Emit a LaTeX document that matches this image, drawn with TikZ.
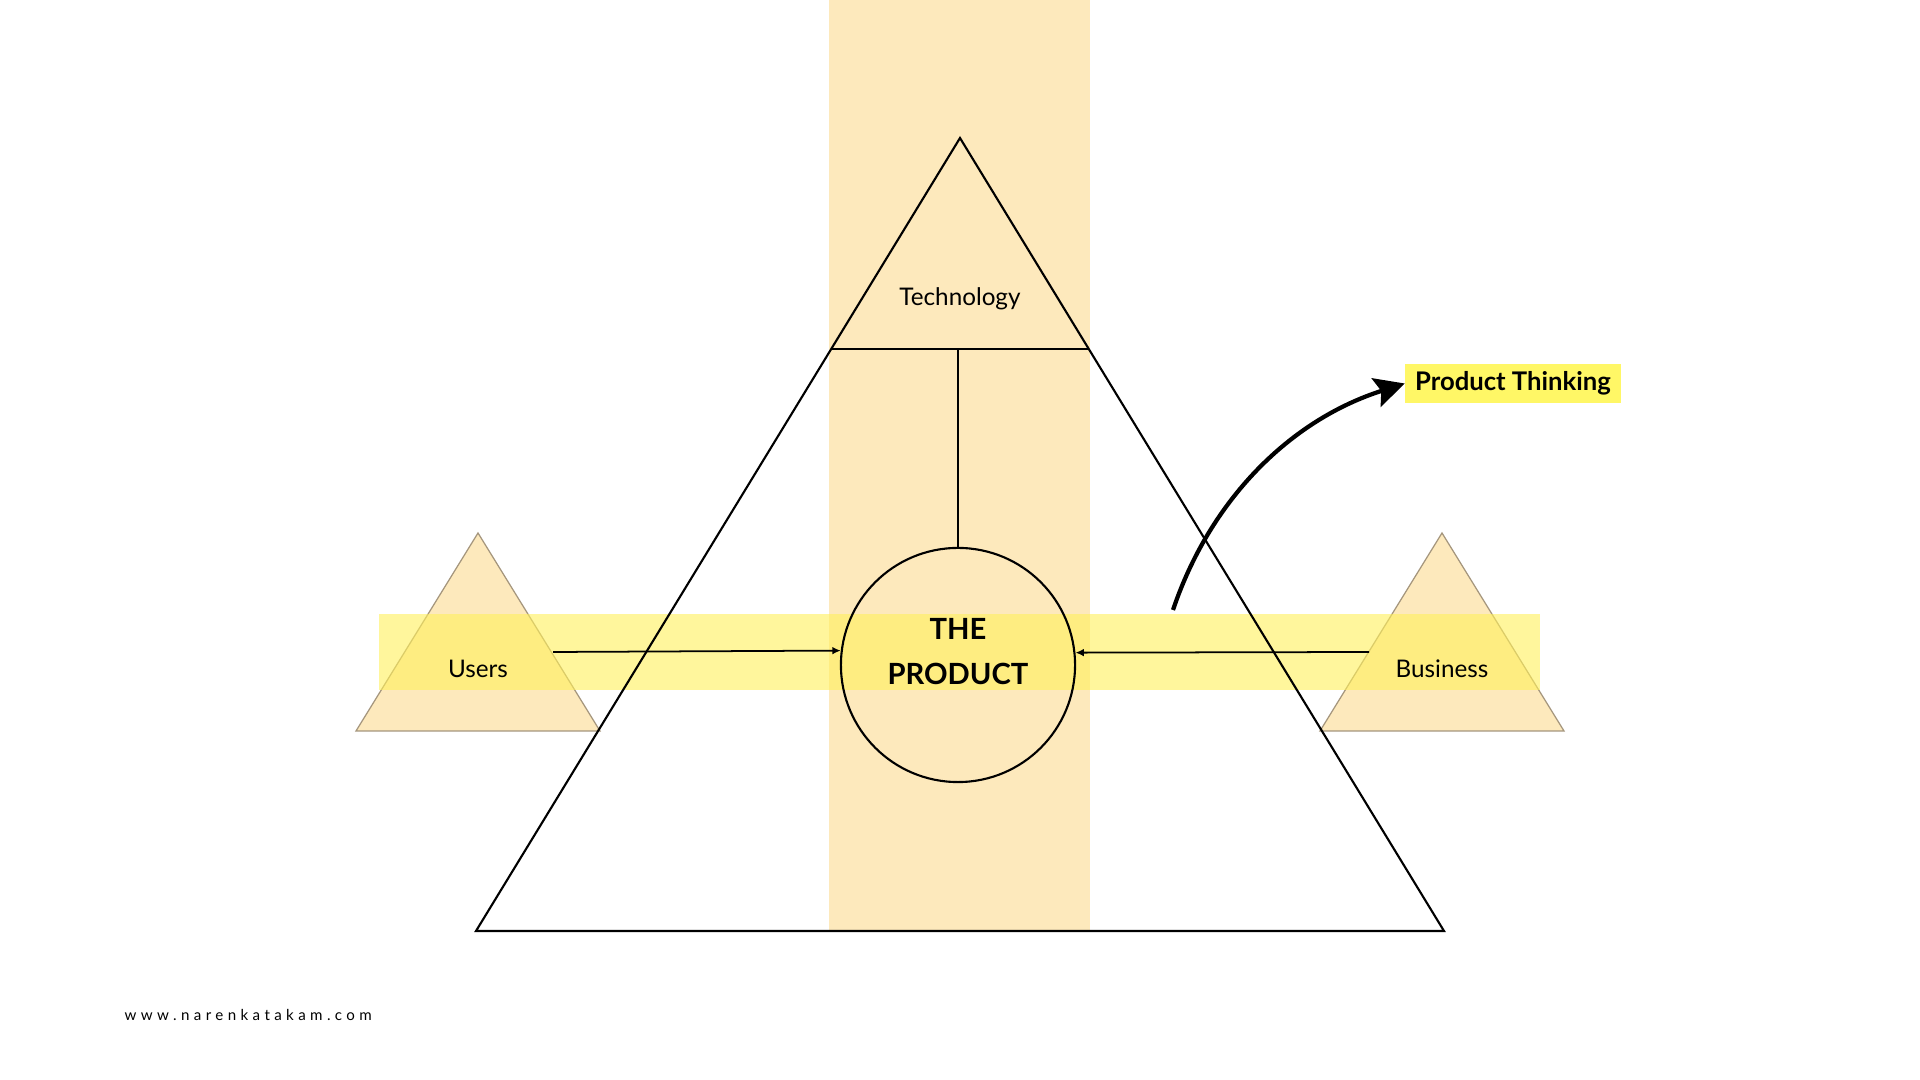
\documentclass[tikz,border=0pt]{standalone}
\usepackage{fontspec}
\setmainfont{Lato}
\usetikzlibrary{arrows.meta}
\begin{document}
\begin{tikzpicture}[x = 0.01cm, y = -0.01cm]
\definecolor{bandorange}{RGB}{253,233,188}
\definecolor{bandyellow}{RGB}{255,240,90}
\definecolor{labelyellow}{RGB}{255,247,102}
\definecolor{edgegray}{RGB}{165,150,125}
\pgfmathsetmacro\half{122};
\useasboundingbox [fill = white] (0,0) rectangle (1920,1080);
\fill [bandorange] (829,0) rectangle (1090,931);
\foreach \cx in {478,1442} \draw [fill = bandorange, draw = edgegray, line width = 0.35pt] (\cx,533) -- (\cx+\half,731) -- (\cx-\half,731) -- cycle;
\fill [bandyellow, fill opacity = 0.6] (379,614) rectangle (1540,690);
\draw [line width = 0.6pt] (960,138) -- (1444,931) -- (476,931) -- cycle;
\draw [line width = 0.6pt] (832,349) -- (1089,349);
\node [circle, draw, line width = 0.6pt, minimum size = 2.34cm, inner sep = 0pt] (product) at (958,665) {};
\node [font = \fontsize{8.3}{12.8}\selectfont\bfseries, align = center] (producttext) at (958,652) {THE\\PRODUCT};
\node [anchor = base, font = \fontsize{6.9}{8}\selectfont] (technology) at (960,306) {Technology};
\node [anchor = base, font = \fontsize{6.9}{8}\selectfont] (users) at (478,678) {Users};
\node [anchor = base, font = \fontsize{6.9}{8}\selectfont] (business) at (1442,678) {Business};
\node [fill = labelyellow, minimum width = 2.15cm, minimum height = 0.39cm, inner sep = 0pt, font = \fontsize{7.3}{8}\selectfont\bfseries] (thinking) at (1513,383.5) {Product Thinking};
\coordinate (techbase) at (958,349);
\coordinate (usersend) at (553,652);
\coordinate (businessend) at (1369,652);
\coordinate (curvestart) at (1173,610);
\draw [line width = 0.6pt] (techbase) -- (product.north);
\draw [line width = 0.5pt, -{Latex[length = 2.4pt, width = 2.2pt]}] (usersend) -- (product.173.6);
\draw [line width = 0.5pt, -{Latex[length = 2.4pt, width = 2.2pt]}] (businessend) -- (product.6.4);
\draw [line width = 1.2pt, -{Stealth[length = 8.5pt, width = 8.5pt, inset = 1.5pt]}] (curvestart) .. controls (1210,500) and (1290,420) .. (thinking.west);
\node [anchor = base west, inner sep = 0pt, font = \fontsize{4.3}{5}\selectfont\addfontfeatures{LetterSpace = 29}] (site) at (124,1021) {www.narenkatakam.com};
\end{tikzpicture}
\end{document}
